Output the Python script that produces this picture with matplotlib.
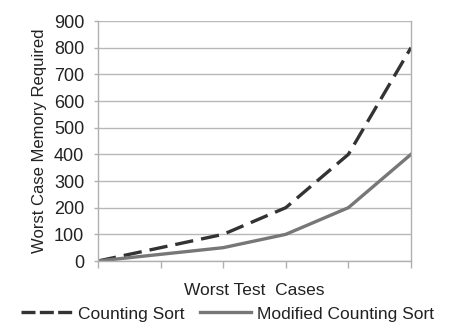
import matplotlib
matplotlib.use("Agg")
import matplotlib.pyplot as plt
from matplotlib.lines import Line2D

plt.rcParams['font.family'] = ['Liberation Sans', 'DejaVu Sans']

cases = [1, 2, 3, 4, 5, 6]
counting_sort = [0, 50, 100, 200, 400, 800]
modified_counting_sort = [0, 25, 50, 100, 200, 400]
yticks = [0, 100, 200, 300, 400, 500, 600, 700, 800, 900]
series_names = ['Counting Sort', 'Modified Counting Sort']

fig = plt.figure(figsize=(4.74, 3.33), dpi=100)
ax = fig.add_axes([98/474, 1 - 261/333, (411-98)/474, (261-21)/333])

ax.plot(cases, counting_sort, color='#333333', lw=2.4, dashes=(5.5, 2.4),
        label=series_names[0], dash_capstyle='butt')
ax.plot(cases, modified_counting_sort, color='#777777', lw=2.4,
        label=series_names[1])

ax.set_xlim(1, 6)
ax.set_ylim(0, 900)
ax.set_yticks(yticks)
ax.set_xticks(cases)
ax.set_xticklabels([])
ax.tick_params(axis='x', length=5, color='#b0b0b0', width=1)
ax.tick_params(axis='y', length=3, color='#b0b0b0', width=1, labelsize=13,
               pad=7, labelcolor='#222222')
ax.yaxis.grid(True, color='#b8b8b8', lw=1)
ax.set_axisbelow(True)
for s in ['left', 'right', 'bottom']:
    ax.spines[s].set_color('#b0b0b0')
    ax.spines[s].set_linewidth(1)
ax.spines['top'].set_visible(False)

ax.set_ylabel('Worst Case Memory Required', fontsize=12, labelpad=5, color='#222222')
ax.set_xlabel('Worst Test  Cases', fontsize=12.5, labelpad=7, color='#222222')

handles = [
    Line2D([], [], color='#333333', lw=2.4, dashes=(4.2, 1.3), dash_capstyle='butt'),
    Line2D([], [], color='#777777', lw=2.4),
]
leg = fig.legend(handles, series_names, loc='center', bbox_to_anchor=(0.48, 1 - 314/333),
                 ncol=2, frameon=False, fontsize=12.5, handlelength=2.95,
                 handletextpad=0.35, columnspacing=0.9)
for t in leg.get_texts():
    t.set_color('#222222')

fig.savefig('out.png', dpi=100, facecolor='white')
